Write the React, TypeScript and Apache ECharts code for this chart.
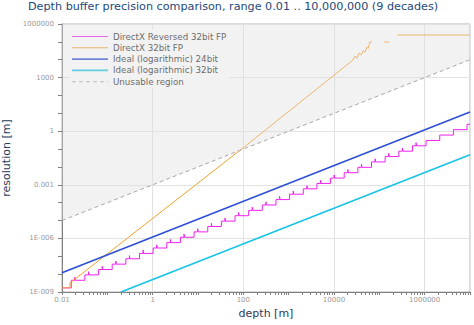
import React, { useEffect, useRef } from "react";
import * as echarts from "echarts";

const titleText = "Depth buffer precision comparison, range 0.01 .. 10,000,000 (9 decades)";
const seriesNames = [
  "DirectX Reversed 32bit FP",
  "DirectX 32bit FP",
  "Ideal (logarithmic) 24bit",
  "Ideal (logarithmic) 32bit",
  "Unusable region",
];

const xTickValues = [0.01, 1, 100, 10000, 1000000];
const xTickLabels = ["0.01", "1", "100", "10000", "1000000"];
const yTickValues = [1e-9, 1e-6, 1e-3, 1, 1e3, 1e6];
const yTickLabels = ["1E-009", "1E-006", "0.001", "1", "1000", "1000000"];

// DirectX Reversed 32bit FP: [depth, resolution] staircase
const reversedFP: [number, number][] = [
  [0.01, 1.7e-9],
  [0.016, 4.53e-9], [0.0192, 6.8e-9], [0.0197, 4.53e-9],
  [0.032, 9.06e-9], [0.0384, 1.36e-8], [0.0394, 9.06e-9],
  [0.0641, 1.81e-8], [0.0769, 2.72e-8], [0.0788, 1.81e-8],
  [0.128, 3.62e-8], [0.154, 5.43e-8], [0.157, 3.62e-8],
  [0.256, 7.25e-8], [0.307, 1.09e-7], [0.315, 7.25e-8],
  [0.513, 1.45e-7], [0.615, 2.18e-7], [0.631, 1.45e-7],
  [1.025, 2.9e-7], [1.23, 4.35e-7], [1.26, 2.9e-7],
  [2.05, 5.8e-7], [2.46, 8.7e-7], [2.52, 5.8e-7],
  [4.1, 1.16e-6], [4.92, 1.74e-6], [5.04, 1.16e-6],
  [8.2, 2.32e-6], [9.84, 3.48e-6], [10.1, 2.32e-6],
  [16.4, 4.64e-6], [19.7, 6.96e-6], [20.2, 4.64e-6],
  [32.8, 9.28e-6], [39.4, 1.39e-5], [40.3, 9.28e-6],
  [65.6, 1.86e-5], [78.7, 2.79e-5], [80.7, 1.86e-5],
  [131, 3.71e-5], [157, 5.57e-5], [161, 3.71e-5],
  [262, 7.42e-5], [315, 1.11e-4], [322, 7.42e-5],
  [525, 1.49e-4], [630, 2.23e-4], [645, 1.49e-4],
  [1050, 2.97e-4], [1260, 4.46e-4], [1291, 2.97e-4],
  [2100, 5.94e-4], [2520, 8.91e-4], [2583, 5.94e-4],
  [4199, 1.19e-3], [5039, 1.78e-3], [5165, 1.19e-3],
  [8398, 2.38e-3], [10078, 3.57e-3], [10330, 2.38e-3],
  [16800, 4.75e-3], [20200, 7.13e-3], [20700, 4.75e-3],
  [33600, 9.51e-3], [40300, 0.0143], [41300, 9.51e-3],
  [67200, 0.019], [80600, 0.0285], [82700, 0.019],
  [134400, 0.038], [161000, 0.057], [165000, 0.038],
  [269000, 0.0761], [323000, 0.114], [331000, 0.0761],
  [537500, 0.152], [645000, 0.228], [661000, 0.152],
  [1075000, 0.304],
  [2150000, 0.608],
  [4300000, 1.22],
  [8600000, 2.43],
  [10000000, 2.43],
];

// DirectX 32bit FP (standard z)
const standardFP: [number, number | string][] = [
  [0.01, 1.7e-9], [0.015, 1.7e-9], [0.015, 3.2e-9],
  [100, 0.12], [25400, 9000],
  [29000, 16000], [32000, 12000], [36000, 24000], [40000, 19000],
  [44000, 32000], [48000, 26000], [53000, 50000], [57000, 43000],
  [61000, 98000], [68000, 98000],
  [90000, "-"],
  [128000, 98000], [165000, 98000],
  [200000, "-"],
  [248000, 242000], [10000000, 242000],
];

const ideal24: [number, number][] = [[0.01, 1.2e-8], [10000000, 12]];
const ideal32: [number, number][] = [[0.2, 1e-9], [10000000, 0.048]];
const unusable: [number, number][] = [[0.01, 1e-5], [10000000, 1e4]];

const xMinorTicks: number[] = [];
for (let e = -2; e < 7; e++) for (let m = 1; m < 10; m++) xMinorTicks.push(m * Math.pow(10, e));
xMinorTicks.push(1e7);

function lookup(values: number[], labels: string[], v: number) {
  for (let i = 0; i < values.length; i++) {
    if (Math.abs(Math.log10(v) - Math.log10(values[i])) < 1e-6) return labels[i];
  }
  return "";
}

const FONT = "DejaVu Sans";
const ICON_THIN = "path://M0,0H36V1.1H0Z";
const ICON_THICK = "path://M0,0H36V1.6H0Z";
const ICON_DASH =
  "path://M0,0H4V1H0Z M7,0H11V1H7Z M14,0H18V1H14Z M21,0H25V1H21Z M28,0H32V1H28Z M35,0H36V1H35Z";

export default function App() {
  const ref = useRef<HTMLDivElement>(null);
  useEffect(() => {
    if (!ref.current) return;
    const chart = echarts.init(ref.current, undefined, { renderer: "svg" });
    const option: any = {
      animation: false,
      backgroundColor: "#fff",
      title: {
        text: titleText,
        left: 28,
        top: 1,
        padding: 0,
        textStyle: { fontFamily: FONT, fontSize: 11.2, fontWeight: "normal", color: "#24497a" },
      },
      legend: {
        left: 70,
        top: 29,
        orient: "vertical",
        backgroundColor: "#fff",
        padding: [3, 3, 2, 2],
        itemWidth: 36,
        itemHeight: 9,
        itemGap: 2.3,
        selectedMode: false,
        itemStyle: { borderWidth: 0 },
        textStyle: { fontFamily: FONT, fontSize: 8.7, color: "#222", lineHeight: 9 },
        data: [
          { name: seriesNames[0], icon: ICON_THIN },
          { name: seriesNames[1], icon: ICON_THIN },
          { name: seriesNames[2], icon: ICON_THICK },
          { name: seriesNames[3], icon: ICON_THICK },
          { name: seriesNames[4], icon: ICON_DASH },
        ],
      },
      grid: {
        left: 62,
        right: 4,
        top: 24,
        bottom: 33,
        show: true,
        borderColor: "#b4b4b4",
        borderWidth: 1,
        outerBoundsMode: "none",
        containLabel: false,
      },
      xAxis: [
        {
          type: "log",
          logBase: 10,
          min: 0.01,
          max: 1e7,
          interval: 2,
          name: "depth [m]",
          nameLocation: "middle",
          nameGap: 15,
          nameTextStyle: { fontFamily: FONT, fontSize: 11, color: "#283a5c" },
          axisLine: { show: true, lineStyle: { color: "#808080" } },
          axisTick: { show: false },
          axisLabel: {
            margin: 4,
            fontFamily: FONT,
            fontSize: 7,
            color: "#999",
            formatter: (v: number) => lookup(xTickValues, xTickLabels, v),
          },
          splitLine: { show: true, lineStyle: { color: "#e2e2e2", width: 1 } },
        },
        {
          type: "log",
          logBase: 10,
          min: 0.01,
          max: 1e7,
          position: "bottom",
          axisLine: { show: false },
          axisLabel: { show: false },
          splitLine: { show: false },
          axisTick: {
            show: true,
            length: 3,
            customValues: xMinorTicks,
            lineStyle: { color: "#808080" },
          },
        },
      ],
      yAxis: [
        {
          type: "log",
          logBase: 10,
          min: 1e-9,
          max: 1e6,
          interval: 3,
          name: "resolution [m]",
          nameLocation: "middle",
          nameGap: 42,
          nameTextStyle: { fontFamily: FONT, fontSize: 11, color: "#283a5c" },
          axisLine: { show: true, lineStyle: { color: "#808080" } },
          axisTick: { show: false },
          axisLabel: {
            margin: 8,
            fontFamily: FONT,
            fontSize: 7,
            color: "#999",
            formatter: (v: number) => lookup(yTickValues, yTickLabels, v),
          },
          splitLine: { show: true, lineStyle: { color: "#e2e2e2", width: 1 } },
        },
        {
          type: "log",
          logBase: 10,
          min: 1e-9,
          max: 1e6,
          interval: 1,
          position: "left",
          axisLine: { show: false },
          axisLabel: { show: false },
          splitLine: { show: false },
          axisTick: { show: true, length: 4, lineStyle: { color: "#808080" } },
        },
      ],
      series: [
        {
          name: seriesNames[0],
          type: "line",
          step: "end",
          data: reversedFP,
          showSymbol: false,
          symbol: "none",
          lineStyle: { color: "#f020f0", width: 1 },
          itemStyle: { color: "#f020f0" },
          z: 3,
        },
        {
          name: seriesNames[1],
          type: "line",
          data: standardFP,
          showSymbol: false,
          symbol: "none",
          connectNulls: false,
          lineStyle: { color: "#f5a02a", width: 1 },
          itemStyle: { color: "#f5a02a" },
          z: 4,
        },
        {
          name: seriesNames[2],
          type: "line",
          data: ideal24,
          showSymbol: false,
          symbol: "none",
          lineStyle: { color: "#2d4fd6", width: 1.6 },
          itemStyle: { color: "#2d4fd6" },
          z: 5,
        },
        {
          name: seriesNames[3],
          type: "line",
          data: ideal32,
          showSymbol: false,
          symbol: "none",
          lineStyle: { color: "#17c3e6", width: 1.6 },
          itemStyle: { color: "#17c3e6" },
          z: 5,
        },
        {
          name: seriesNames[4],
          type: "line",
          data: unusable,
          showSymbol: false,
          symbol: "none",
          lineStyle: { color: "#a8a8a8", width: 1, type: [4, 3] },
          itemStyle: { color: "#a8a8a8" },
          areaStyle: { origin: "end", color: "rgba(222,222,222,0.55)" },
          z: 6,
        },
      ],
    };
    chart.setOption(option);
    return () => chart.dispose();
  }, []);
  return (
    <div
      ref={ref}
      style={{ position: "fixed", left: 0, top: 0, width: 474, height: 325 }}
    />
  );
}
